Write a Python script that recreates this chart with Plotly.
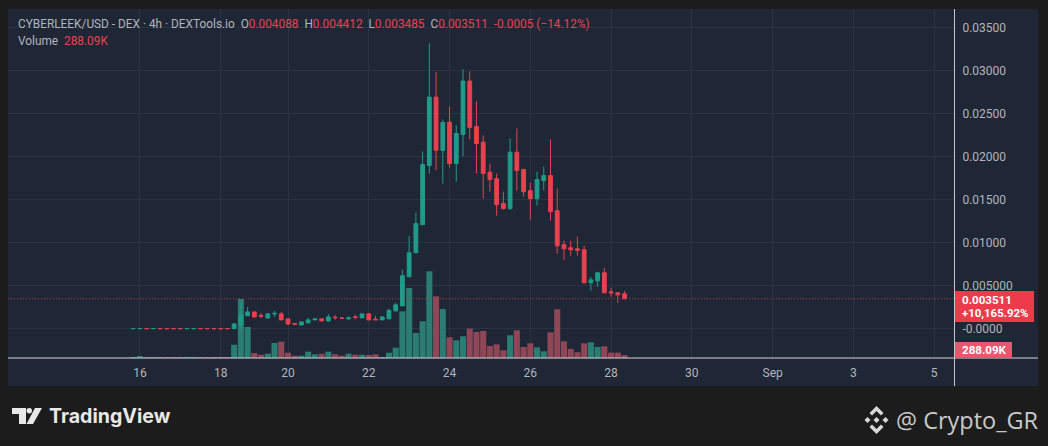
import plotly.graph_objects as go

W, H = 1048, 446
PLOT_L, PLOT_R, PLOT_T, PLOT_B = 8, 954, 9, 358

bar_x = list(range(-1, 73))

opens = [0.000030, 0.000030, 0.000040, 0.000030, 0.000040, 0.000040, 0.000040,
         0.000040, 0.000030, 0.000030, 0.000040, 0.000040, 0.000040, 0.000040, 0.000040,
         0.00003, 0.00047, 0.00152, 0.00198, 0.00155, 0.00128, 0.00175, 0.00175, 0.00117,
         0.00062, 0.00047, 0.0007, 0.00105, 0.00117, 0.00093, 0.00136, 0.00128, 0.00117,
         0.0014, 0.00128, 0.00175, 0.00113, 0.00105, 0.00117, 0.0021, 0.00268, 0.00606,
         0.00886, 0.01212, 0.019, 0.02696, 0.02075, 0.02404, 0.01923, 0.02261, 0.02882,
         0.02354, 0.02171, 0.01822, 0.01748, 0.0146, 0.01399, 0.02055, 0.01853, 0.01608,
         0.01515, 0.01725, 0.01783, 0.01375, 0.00979, 0.00944, 0.00932, 0.00921, 0.00536,
         0.00559, 0.00653, 0.00431, 0.0042, 0.004088]
highs = [0.000050, 0.000045, 0.000045, 0.000050, 0.000045, 0.000045, 0.000045,
         0.000045, 0.000050, 0.000050, 0.000045, 0.000045, 0.000045, 0.000045, 0.000045,
         0.0007, 0.0030, 0.00256, 0.00198, 0.00186, 0.00186, 0.0021, 0.00198, 0.00117,
         0.00062, 0.00082, 0.00128, 0.00117, 0.00117, 0.00175, 0.00163, 0.00128, 0.00146,
         0.00163, 0.00175, 0.00186, 0.00152, 0.0014, 0.00233, 0.00303, 0.00688, 0.01084,
         0.01352, 0.02063, 0.03322, 0.02987, 0.02436, 0.02587, 0.02366, 0.03019, 0.02995,
         0.02646, 0.02249, 0.01923, 0.01807, 0.01597, 0.02214, 0.02331, 0.01865, 0.01702,
         0.0183, 0.01888, 0.02203, 0.01632, 0.01026, 0.01026, 0.01072, 0.00967, 0.00606,
         0.00664, 0.00711, 0.00478, 0.0042, 0.004412]
lows = [0.000030, 0.000020, 0.000020, 0.000030, 0.000020, 0.000020, 0.000020,
        0.000020, 0.000030, 0.000030, 0.000020, 0.000020, 0.000020, 0.000020, 0.000020,
        0.00002, 0.00002, 0.00152, 0.00128, 0.00128, 0.00117, 0.0014, 0.00105, 0.00047,
        0.00055, 0.00035, 0.0007, 0.00105, 0.00093, 0.00082, 0.00105, 0.00124, 0.00105,
        0.00111, 0.00128, 0.00105, 0.00105, 0.00105, 0.00117, 0.00198, 0.00268, 0.00606,
        0.00886, 0.01212, 0.01807, 0.01845, 0.0169, 0.01876, 0.01713, 0.02005, 0.02203,
        0.01807, 0.01515, 0.01597, 0.01317, 0.01387, 0.01387, 0.01608, 0.01538, 0.0127,
        0.01434, 0.01608, 0.01259, 0.00874, 0.00804, 0.00851, 0.00851, 0.00536, 0.00443,
        0.0049, 0.0042, 0.00373, 0.00303, 0.003485]
closes = [0.000040, 0.000040, 0.000030, 0.000040, 0.000030, 0.000030, 0.000030,
          0.000030, 0.000040, 0.000040, 0.000030, 0.000030, 0.000030, 0.000030, 0.000030,
          0.00058, 0.00163, 0.00198, 0.0014, 0.00148, 0.00175, 0.00181, 0.00105, 0.00058,
          0.00055, 0.00082, 0.00105, 0.00117, 0.00093, 0.0014, 0.00131, 0.00124, 0.00128,
          0.00133, 0.00175, 0.00105, 0.00106, 0.0014, 0.00216, 0.0028, 0.00618, 0.00886,
          0.01224, 0.01911, 0.02696, 0.02078, 0.02401, 0.01923, 0.02273, 0.02882, 0.02343,
          0.02156, 0.01807, 0.01737, 0.01445, 0.01399, 0.02055, 0.01841, 0.01597, 0.01515,
          0.01737, 0.01783, 0.01364, 0.00967, 0.00932, 0.00921, 0.00915, 0.00536, 0.00571,
          0.00653, 0.0042, 0.0042, 0.00396, 0.003511]
# volume in K
volumes = [100, 200, 80, 60, 50, 50, 50, 60, 50, 40, 40, 30, 40, 50, 80,
           1330, 5900, 3100, 500, 330, 430, 1500, 1630, 530, 230, 230, 630, 370, 430, 630,
           370, 230, 430, 330, 330, 300, 370, 70, 530, 1030, 4670, 7000, 2500, 3670, 8670,
           6170, 4900, 2070, 1770, 2170, 2950, 2600, 2700, 1200, 1370, 770, 2270, 2770,
           1100, 1470, 1070, 670, 2570, 4870, 1670, 900, 570, 1470, 1570, 1100, 1170, 540,
           540, 288.09]

last_close = 0.003511
price_ticks = [0.035, 0.03, 0.025, 0.02, 0.015, 0.01, 0.005, 0.0]
price_labels = ["0.03500", "0.03000", "0.02500", "0.02000", "0.01500", "0.01000", "0.005000", "-0.0000"]
time_ticks = [0, 12, 22, 34, 46, 58, 70, 82, 94, 106, 118]
time_labels = ["16", "18", "20", "22", "24", "26", "28", "30", "Sep", "3", "5"]

GREEN = "#1f9c88"
RED = "#e8414f"
GRID = "#2a3342"
PANEL = "#1f2736"
TEXT = "#b2b5be"


def px(x):
    return (x - PLOT_L) / (PLOT_R - PLOT_L)


def py(y):
    return (PLOT_B - y) / (PLOT_B - PLOT_T)


def rect(x0, y0, x1, y1, color, layer="above"):
    return dict(type="rect", xref="paper", yref="paper", x0=px(x0), x1=px(x1), y0=py(y0), y1=py(y1),
                fillcolor=color, line_width=0, layer=layer)


def poly(points, color):
    d = "M" + " L".join(f"{px(a):.5f},{py(b):.5f}" for a, b in points) + " Z"
    return dict(type="path", xref="paper", yref="paper", path=d, fillcolor=color, line_width=0)


def label(x, y, text, size=12, color=TEXT, family="Roboto", anchor="left"):
    return dict(xref="paper", yref="paper", x=px(x), y=py(y), text=text, showarrow=False,
                xanchor=anchor, yanchor="middle", align="left", borderpad=0,
                font=dict(size=size, color=color, family=family))


vol_colors = ["#2b7d73" if c >= o else "#8f4757" for o, c in zip(opens, closes)]

fig = go.Figure()
fig.add_trace(go.Bar(x=bar_x, y=volumes, marker=dict(color=vol_colors, line_width=0), yaxis="y", xaxis="x"))
fig.add_trace(go.Candlestick(
    x=bar_x, open=opens, high=highs, low=lows, close=closes, yaxis="y2", xaxis="x",
    whiskerwidth=0,
    increasing=dict(line=dict(color=GREEN, width=1), fillcolor=GREEN),
    decreasing=dict(line=dict(color=RED, width=1), fillcolor=RED),
))

# panel, axis lines and the two value badges
shapes = [
    rect(8, 9, 1038, 386, PANEL, layer="below"),
    dict(type="line", xref="paper", yref="y2", x0=0, x1=1, y0=last_close, y1=last_close,
         line=dict(color="#b53e4a", width=1, dash="1px,2px")),
    dict(type="line", xref="paper", yref="paper", x0=px(8), x1=px(1038), y0=py(358), y1=py(358),
         line=dict(color="#d5d8de", width=1)),
    dict(type="line", xref="paper", yref="paper", x0=px(954.5), x1=px(954.5), y0=py(9), y1=py(386),
         line=dict(color="#c3c7d0", width=1)),
    rect(955, 291, 1034, 322, "#ee3b4b"),
    rect(955, 342, 1012, 358, "#e9566e"),
]

# TradingView mark
LOGO = "#e8e8e8"
shapes += [
    poly([(12, 408), (26, 408), (26, 424), (19, 424), (19, 414), (12, 414)], LOGO),
    poly([(35, 408), (42, 408), (33, 424), (26.5, 424)], LOGO),
    dict(type="circle", xref="paper", yref="paper", x0=px(26.5), x1=px(32), y0=py(408), y1=py(413.5),
         fillcolor=LOGO, line_width=0),
]

# Binance mark
BN = "#d8d8d8"
cx, cy = 876.5, 420
shapes += [
    poly([(cx, cy - 14), (cx + 7, cy - 7), (cx + 4.5, cy - 4.5), (cx, cy - 9), (cx - 4.5, cy - 4.5), (cx - 7, cy - 7)], BN),
    poly([(cx, cy + 14), (cx + 7, cy + 7), (cx + 4.5, cy + 4.5), (cx, cy + 9), (cx - 4.5, cy + 4.5), (cx - 7, cy + 7)], BN),
    poly([(cx, cy - 3), (cx + 3, cy), (cx, cy + 3), (cx - 3, cy)], BN),
    poly([(cx - 9, cy - 3), (cx - 6, cy), (cx - 9, cy + 3), (cx - 12, cy)], BN),
    poly([(cx + 9, cy - 3), (cx + 12, cy), (cx + 9, cy + 3), (cx + 6, cy)], BN),
]

R = f'<span style="color:{RED}">'
annotations = [
    label(17, 24, f"CYBERLEEK/USD - DEX · 4h · DEXTools.io  O{R}0.004088</span>  H{R}0.004412</span>  "
                  f"L{R}0.003485</span>  C{R}0.003511</span>  {R}-0.0005 (−14.12%)</span>", size=11.85),
    label(17, 41, f"Volume  {R}288.09K</span>", size=11.85),
    label(961, 300, "<b>0.003511</b>", size=11.6, color="#ffffff"),
    label(961, 313, "<b>+10,165.92%</b>", size=11.4, color="#ffffff"),
    label(961, 350, "<b>288.09K</b>", size=11.6, color="#ffffff"),
    label(48, 416, "<b>TradingView</b>", size=19.6, color=LOGO, family="Inter"),
    label(895, 420, "@ Crypto_GR", size=23.5, color="#c9c9c9", family="Open Sans"),
]

fig.update_layout(
    width=W, height=H,
    margin=dict(l=PLOT_L, r=W - PLOT_R, t=PLOT_T, b=H - PLOT_B, pad=0),
    paper_bgcolor="#1c1c1c", plot_bgcolor="rgba(0,0,0,0)",
    showlegend=False, bargap=0.1, boxgap=0.2,
    shapes=shapes, annotations=annotations,
    font=dict(family="Roboto", color=TEXT, size=12),
    xaxis=dict(range=[-19.6, 120.95], tickmode="array", tickvals=time_ticks, ticktext=time_labels,
               gridcolor=GRID, gridwidth=1, showline=False, zeroline=False, ticks="outside",
               ticklen=4, tickcolor="rgba(0,0,0,0)", rangeslider=dict(visible=False)),
    yaxis=dict(range=[0, 34900], visible=False, showgrid=False, zeroline=False),
    yaxis2=dict(range=[-0.00338, 0.0372], overlaying="y", side="right", tickmode="array",
                tickvals=price_ticks, ticktext=price_labels, gridcolor=GRID, gridwidth=1,
                zeroline=False, showline=False, ticks="outside", ticklen=5,
                tickcolor="rgba(0,0,0,0)"),
)

fig.write_html("out.html", config=dict(displayModeBar=False),
               post_script="document.body.style.margin='0';document.body.style.overflow='hidden';")
